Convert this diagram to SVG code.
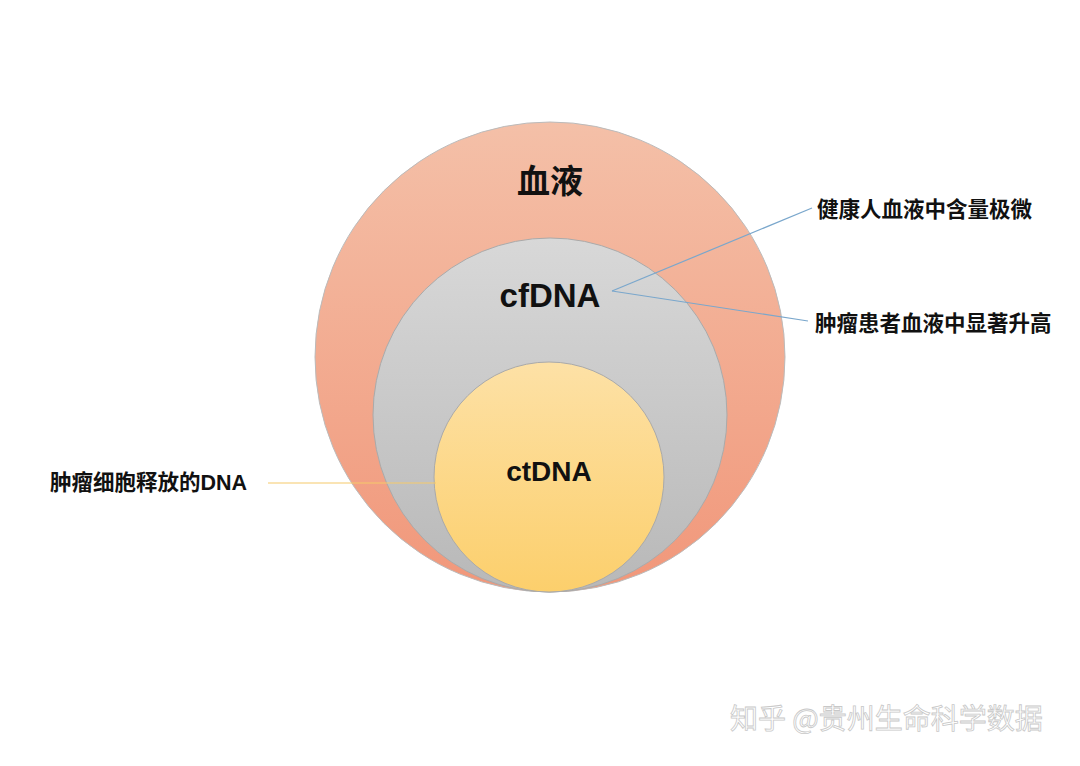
<svg xmlns="http://www.w3.org/2000/svg" width="1080" height="766" viewBox="0 0 1080 766">
<style>
.t{font-family:"Liberation Sans","Noto Sans CJK SC",sans-serif;font-weight:bold;fill:#111}
.big{font-size:33px}.lbl{font-size:21.5px}
.wm{font-family:"Noto Sans CJK SC",sans-serif;font-size:28px;fill:#fff;stroke:#c8c8c8;stroke-width:0.8}
</style>
<defs>
<linearGradient id="gO" x1="0" y1="0" x2="0" y2="1"><stop offset="0" stop-color="#f4c0a8"/><stop offset="1" stop-color="#f1977a"/></linearGradient>
<linearGradient id="gM" x1="0" y1="0" x2="0" y2="1"><stop offset="0" stop-color="#d8d8d8"/><stop offset="1" stop-color="#b8b8b8"/></linearGradient>
<linearGradient id="gI" x1="0" y1="0" x2="0" y2="1"><stop offset="0" stop-color="#fde1a6"/><stop offset="1" stop-color="#fccf6c"/></linearGradient>
</defs>
<rect width="1080" height="766" fill="#fff"/>
<g id="blood"><circle cx="550" cy="357" r="235" fill="url(#gO)" stroke="#bbb" stroke-width="1"/><text class="t big" x="550" y="193" text-anchor="middle" font-family="Noto Sans CJK SC">血液</text></g>
<g id="cfdna"><circle cx="550" cy="415" r="177" fill="url(#gM)" stroke="#aaa" stroke-width="1"/><text class="t big" x="550" y="307" text-anchor="middle">cfDNA</text></g>
<g id="ctdna"><circle cx="549" cy="477" r="115" fill="url(#gI)" stroke="#aaa" stroke-width="1"/><text class="t" font-size="28" x="549" y="481" text-anchor="middle">ctDNA</text></g>
<g id="connectors" fill="none" stroke-width="1.2">
<line x1="612" y1="291" x2="812" y2="208" stroke="#7aa7cc"/>
<line x1="612" y1="291" x2="808" y2="321" stroke="#7aa7cc"/>
<line x1="268" y1="483" x2="436" y2="483" stroke="#f5c96a"/>
</g>
<g id="label1"><text class="t lbl" x="817" y="217">健康人血液中含量极微</text></g>
<g id="label2"><text class="t lbl" x="815" y="331">肿瘤患者血液中显著升高</text></g>
<g id="label3"><text class="t lbl" x="50" y="490">肿瘤细胞释放的DNA</text></g>
<text class="wm" x="730" y="729">知乎 @贵州生命科学数据</text>
</svg>
